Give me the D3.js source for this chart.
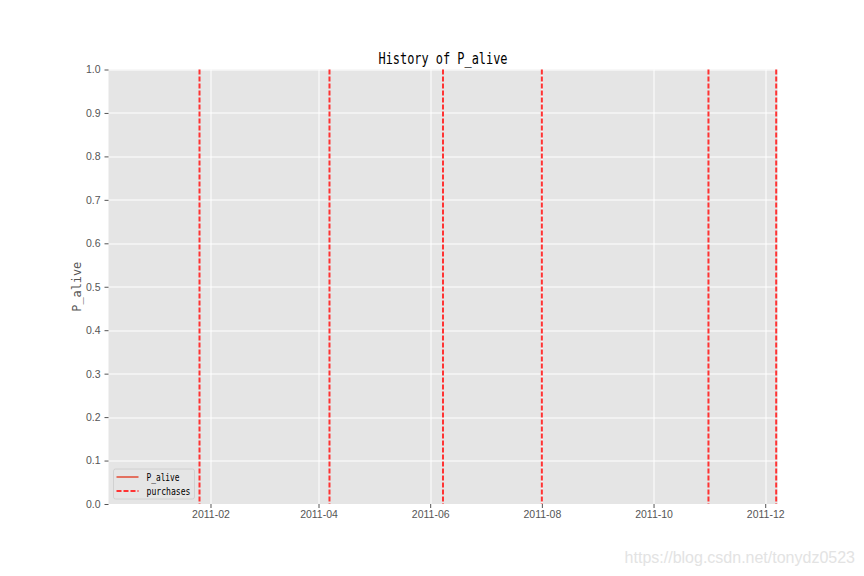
<!DOCTYPE html>
<html>
<head>
<meta charset="utf-8">
<script src="https://cdn.jsdelivr.net/npm/d3@7"></script>
<style>
  body { margin: 0; background: #fff; }
  .tick text { font-family: "Liberation Sans", Arial, sans-serif; }
</style>
</head>
<body>
<div id="chart"></div>
<script>
// data
const xRange = ["2010-12-07T07:00", "2011-12-07T17:00"]
const purchaseDates = ["2011-01-26", "2011-04-07", "2011-06-08", "2011-08-01", "2011-10-31", "2011-12-07"]
const pAliveValues = []   // the P_alive series leaves no visible trace
const xTickLabels = ["2011-02", "2011-04", "2011-06", "2011-08", "2011-10", "2011-12"]
const yTicks = [0, 0.1, 0.2, 0.3, 0.4, 0.5, 0.6, 0.7, 0.8, 0.9, 1.0]
const legendLabels = ["P_alive", "purchases"]

const W = 864, H = 576
const margin = {top: 69.5, right: 86.5, bottom: 72, left: 108.5}
const width = W - margin.left - margin.right
const height = H - margin.top - margin.bottom

const parseT = d3.utcParse("%Y-%m-%dT%H:%M")
const parseD = d3.utcParse("%Y-%m-%d")
const parseM = d3.utcParse("%Y-%m")

const svg = d3.select("#chart")
  .append("svg")
  .attr("width", W)
  .attr("height", H)

const g = svg.append("g")
  .attr("transform", "translate(" + margin.left + "," + margin.top + ")")

// background
g.append("rect")
  .attr("width", width)
  .attr("height", height)
  .attr("fill", "#e5e5e5")

const x = d3.scaleUtc()
  .domain(xRange.map(parseT))
  .range([0, width])

const y = d3.scaleLinear()
  .domain([0, 1])
  .range([height, 0])

// grid
g.append("g")
  .selectAll("line")
  .data(yTicks)
  .enter()
  .append("line")
    .attr("x1", 0)
    .attr("x2", width)
    .attr("y1", d => Math.round(y(d)) + 0.5)
    .attr("y2", d => Math.round(y(d)) + 0.5)
    .attr("stroke", "#fff")
    .attr("stroke-width", 1)

g.append("g")
  .selectAll("line")
  .data(xTickLabels)
  .enter()
  .append("line")
    .attr("x1", d => Math.round(x(parseM(d))) + 0.5)
    .attr("x2", d => Math.round(x(parseM(d))) + 0.5)
    .attr("y1", 0)
    .attr("y2", height)
    .attr("stroke", "#fff")
    .attr("stroke-width", 1)

// axes
const xAxis = g.append("g")
  .attr("transform", "translate(0," + height + ")")
  .call(d3.axisBottom(x)
    .tickValues(xTickLabels.map(parseM))
    .tickFormat(d3.utcFormat("%Y-%m"))
    .tickSize(4)
    .tickPadding(3))
xAxis.select(".domain").remove()
xAxis.selectAll("line").attr("stroke", "#555")
xAxis.selectAll("text").style("fill", "#555").style("font-size", "10.5px")

const yAxis = g.append("g")
  .call(d3.axisLeft(y)
    .tickValues(yTicks)
    .tickFormat(d3.format(".1f"))
    .tickSize(4)
    .tickPadding(4))
yAxis.select(".domain").remove()
yAxis.selectAll("line").attr("stroke", "#555")
yAxis.selectAll("text").style("fill", "#555").style("font-size", "10.5px")

// P_alive line (empty)
g.append("path")
  .datum(pAliveValues)
  .attr("fill", "none")
  .attr("stroke", "#E24A33")
  .attr("stroke-width", 1.5)
  .attr("d", d3.line()
    .x(d => x(parseD(d.date)))
    .y(d => y(d.value)))

// purchases
g.append("g")
  .selectAll("line")
  .data(purchaseDates)
  .enter()
  .append("line")
    .attr("x1", d => x(parseD(d)))
    .attr("x2", d => x(parseD(d)))
    .attr("y1", 0)
    .attr("y2", height)
    .attr("stroke", "#ff3333")
    .attr("stroke-width", 2)
    .attr("stroke-dasharray", "5,2")

// title
svg.append("text")
  .attr("x", margin.left + width / 2)
  .attr("y", margin.top - 6)
  .attr("text-anchor", "middle")
  .attr("textLength", 129)
  .attr("lengthAdjust", "spacingAndGlyphs")
  .text("History of P_alive")
  .style("font-family", "'DejaVu Sans Mono', 'Liberation Mono', monospace")
  .style("font-size", "15px")
  .style("fill", "#000")

// y label
svg.append("text")
  .attr("transform", "translate(81," + (margin.top + height / 2) + ") rotate(-90)")
  .attr("text-anchor", "middle")
  .attr("textLength", 50)
  .attr("lengthAdjust", "spacingAndGlyphs")
  .text("P_alive")
  .style("font-family", "'DejaVu Sans Mono', 'Liberation Mono', monospace")
  .style("font-size", "12.5px")
  .style("fill", "#555")

// legend
const legend = g.append("g")
  .attr("transform", "translate(5," + (height - 35) + ")")
legend.append("rect")
  .attr("x", 0)
  .attr("y", 0)
  .attr("width", 81)
  .attr("height", 30)
  .attr("rx", 2)
  .attr("fill", "#e5e5e5")
  .attr("stroke", "#ccc")
  .attr("stroke-width", 0.8)

const items = legend.selectAll(".legend")
  .data(legendLabels)
  .enter()
  .append("g")
  .attr("class", "legend")
  .attr("transform", (d, i) => "translate(0," + (8 + i * 14) + ")")
items.append("line")
  .attr("x1", 3)
  .attr("x2", 25)
  .attr("y1", 0)
  .attr("y2", 0)
  .attr("stroke", (d, i) => i === 0 ? "#E24A33" : "#ff3333")
  .attr("stroke-width", (d, i) => i === 0 ? 1.5 : 2)
  .attr("stroke-dasharray", (d, i) => i === 0 ? null : "5,2")
items.append("text")
  .attr("x", 33)
  .attr("y", 3.5)
  .attr("textLength", (d, i) => i === 0 ? 33 : 44)
  .attr("lengthAdjust", "spacingAndGlyphs")
  .text(d => d)
  .style("font-family", "'DejaVu Sans Mono', 'Liberation Mono', monospace")
  .style("font-size", "10px")
  .style("fill", "#000")

// watermark
svg.append("text")
  .attr("x", 855)
  .attr("y", 563)
  .attr("text-anchor", "end")
  .text("https://blog.csdn.net/tonydz0523")
  .style("font-family", "'Liberation Sans', Arial, sans-serif")
  .style("font-size", "16px")
  .style("fill", "#e3e3e3")
</script>
</body>
</html>
